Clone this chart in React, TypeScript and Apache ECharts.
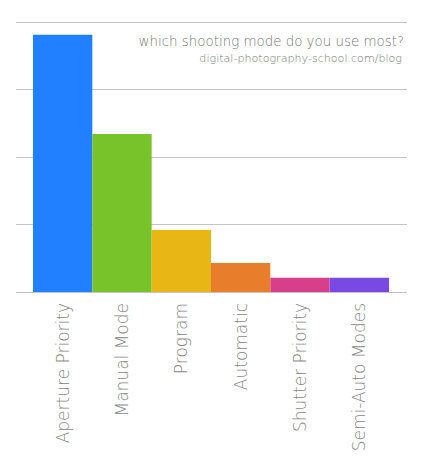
import { useEffect, useRef } from 'react';
import * as echarts from 'echarts';

const categories = [
  'Aperture Priority',
  'Manual Mode',
  'Program',
  'Automatic',
  'Shutter Priority',
  'Semi-Auto Modes',
];
const votes = [38.1, 23.4, 9.2, 4.3, 2.1, 2.1];
const barColors = ['#2080ff', '#78c22a', '#e8b615', '#e87d2b', '#d83f8b', '#784ae3'];
const titleText = 'which shooting mode do you use most?';
const sourceText = 'digital-photography-school.com/blog';

const FONT = '"DejaVu Sans", sans-serif';

export default function App() {
  const box = useRef<HTMLDivElement>(null);

  useEffect(() => {
    if (!box.current) return;
    const chart = echarts.init(box.current, null, { renderer: 'svg' });
    chart.setOption({
      animation: false,
      backgroundColor: '#fff',
      grid: [
        // wide grid only carries the horizontal rules
        { left: 16, right: 14, top: 22, bottom: 177 },
        { left: 33, right: 32, top: 22, bottom: 177 },
      ],
      title: [
        {
          text: titleText,
          right: 12,
          top: 30,
          textStyle: { fontFamily: FONT, fontSize: 13.4, fontWeight: 200, color: '#777' },
        },
        {
          text: sourceText,
          right: 14,
          top: 48,
          textStyle: { fontFamily: FONT, fontSize: 11.1, fontWeight: 200, color: '#777' },
        },
      ],
      xAxis: [
        { gridIndex: 0, type: 'value', show: false },
        {
          gridIndex: 1,
          type: 'category',
          data: categories,
          axisLine: { show: false },
          axisTick: { show: false },
          axisLabel: {
            rotate: 90,
            margin: 11,
            fontFamily: FONT,
            fontSize: 17,
            fontWeight: 200,
            color: '#888',
          },
        },
      ],
      yAxis: [
        {
          gridIndex: 0,
          type: 'value',
          min: 0,
          max: 40,
          interval: 10,
          axisLine: { show: false },
          axisTick: { show: false },
          axisLabel: { show: false },
          splitLine: { lineStyle: { color: '#c4c4c4', width: 1 } },
        },
        {
          gridIndex: 1,
          type: 'value',
          min: 0,
          max: 40,
          interval: 10,
          show: false,
          splitLine: { show: false },
        },
      ],
      series: [
        {
          type: 'bar',
          xAxisIndex: 1,
          yAxisIndex: 1,
          barWidth: '100%',
          data: votes.map((v, i) => ({ value: v, itemStyle: { color: barColors[i] } })),
        },
      ],
    });
    return () => chart.dispose();
  }, []);

  return (
    <div
      ref={box}
      style={{ position: 'fixed', left: 0, top: 0, width: 421, height: 469 }}
    />
  );
}
